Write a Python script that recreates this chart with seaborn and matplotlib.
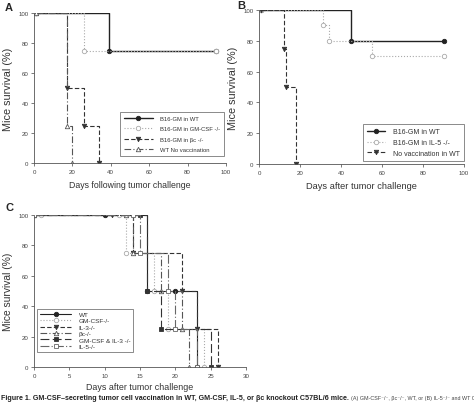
import numpy as np
import pandas as pd
import matplotlib
matplotlib.use('Agg')
import matplotlib.pyplot as plt
import seaborn as sns

# ---- Panel A data (days, survival %) ----
a_wt_days = [1, 39, 95]
a_wt_surv = [100, 75, 75]
a_gm_days = [1, 26, 95]
a_gm_surv = [100, 75, 75]
a_bc_days = [1, 17, 26, 34]
a_bc_surv = [100, 50, 25, 0]
a_nv_days = [1, 17, 20]
a_nv_surv = [100, 25, 0]
a_labels = ['B16-GM in WT', 'B16-GM in GM-CSF -/-', 'B16-GM in \u03b2c -/-', 'WT No vaccination']

# ---- Panel B data ----
b_wt_days = [1, 45, 90]
b_wt_surv = [100, 80, 80]
b_il5_days = [1, 31, 34, 55, 90]
b_il5_surv = [100, 90, 80, 70, 70]
b_nv_days = [1, 12, 13, 18]
b_nv_surv = [100, 75, 50, 0]
b_labels = ['B16-GM in WT', 'B16-GM in IL-5 -/-', 'No vaccination in WT']

# ---- Panel C data ----
c_wt_days = [0, 10, 16, 20, 23]
c_wt_surv = [100, 100, 50, 50, 0]
c_gm_days = [1, 12, 13, 17, 19, 24]
c_gm_surv = [100, 100, 75, 50, 25, 0]
c_il3_days = [0, 11, 14, 21, 23, 26]
c_il3_surv = [100, 100, 75, 50, 25, 0]
c_bc_days = [0, 13, 14, 18, 21, 22]
c_bc_surv = [100, 100, 75, 50, 25, 0]
c_gmil3_days = [0, 15, 16, 18, 25]
c_gmil3_surv = [100, 100, 50, 25, 0]
c_il5_days = [0, 14, 15, 19, 20, 23]
c_il5_surv = [100, 100, 75, 50, 25, 0]
c_labels = ['WT', 'GM-CSF-/-', 'IL-3-/-', '\u03b2c-/-', 'GM-CSF & IL-3 -/-', 'IL-5-/-']

sns.set_style('white')
NARROW = ['Liberation Sans Narrow', 'Liberation Sans', 'DejaVu Sans']
REG = ['Liberation Sans', 'DejaVu Sans']
plt.rcParams['font.family'] = NARROW

fig = plt.figure(figsize=(4.74, 4.06), dpi=100)
W, H = 474, 406


def add_axes(x0, x1, y_top, y_bot):
    return fig.add_axes([x0 / W, 1 - y_bot / H, (x1 - x0) / W, (y_bot - y_top) / H])


def km(ax, days, surv, label, color, ls, marker, mfc, lw=0.8):
    df = pd.DataFrame({'day': days, 'surv': surv})
    sns.lineplot(data=df, x='day', y='surv', ax=ax, drawstyle='steps-post',
                 color=color, linestyle=ls, linewidth=lw, marker=marker,
                 markersize=3.2, markerfacecolor=mfc, markeredgecolor=color,
                 markeredgewidth=0.6, label=label, estimator=None)


def style(ax, xmax, xstep, xlabel, xsize, ysize, xpad=5):
    ax.set_xlim(0, xmax)
    ax.set_ylim(0, 100)
    ax.set_xticks(np.arange(0, xmax + 1, xstep))
    ax.set_yticks(np.arange(0, 101, 20))
    for s in ['top', 'right']:
        ax.spines[s].set_visible(False)
    for s in ['left', 'bottom']:
        ax.spines[s].set_color('#555555')
        ax.spines[s].set_linewidth(0.6)
    ax.tick_params(axis='both', labelsize=4.4, length=2, width=0.5, pad=2,
                   colors='#444444', direction='out', bottom=True, left=True)
    ax.set_xlabel(xlabel, fontsize=xsize, color='#333333', labelpad=xpad)
    ax.set_ylabel('Mice survival (%)', fontsize=ysize, color='#333333', labelpad=4,
                  family=REG)
    ax.patch.set_alpha(0)


def legend(ax, loc, bbox, size, spacing, hlen, pad=0.7):
    leg = ax.legend(loc=loc, bbox_to_anchor=bbox, bbox_transform=fig.transFigure,
                    fontsize=size, frameon=True, fancybox=False, handlelength=hlen,
                    borderpad=pad, labelspacing=spacing, handletextpad=1.2,
                    borderaxespad=0)
    leg.get_frame().set_edgecolor('#555555')
    leg.get_frame().set_linewidth(0.6)
    for t in leg.get_texts():
        t.set_color('#333333')


# Panel A
axA = add_axes(34, 226, 14, 164)
km(axA, a_wt_days, a_wt_surv, a_labels[0], '#222222', '-', 'o', '#222222', 1.0)
km(axA, a_gm_days, a_gm_surv, a_labels[1], '#aaaaaa', ':', 'o', 'white')
km(axA, a_bc_days, a_bc_surv, a_labels[2], '#333333', (0, (4, 2)), 'v', '#333333')
km(axA, a_nv_days, a_nv_surv, a_labels[3], '#555555', (0, (6, 2, 1, 2)), '^', 'white')
style(axA, 100, 20, 'Days following tumor challenge', 6.3, 7.8)
legend(axA, 'lower right', (224 / W, 1 - 157 / H), 4.2, 0.9, 5.0)

# Panel B
axB = add_axes(259, 464, 11, 165)
km(axB, b_wt_days, b_wt_surv, b_labels[0], '#222222', '-', 'o', '#222222', 1.0)
km(axB, b_il5_days, b_il5_surv, b_labels[1], '#aaaaaa', ':', 'o', 'white')
km(axB, b_nv_days, b_nv_surv, b_labels[2], '#333333', (0, (4, 2)), 'v', '#333333')
style(axB, 100, 20, 'Days after tumor challenge', 6.7, 7.8)
legend(axB, 'lower right', (464 / W, 1 - 162 / H), 5.0, 0.55, 2.5, 0.6)

# Panel C
axC = add_axes(34, 246, 216, 368)
km(axC, c_wt_days, c_wt_surv, c_labels[0], '#222222', '-', 'o', '#222222')
km(axC, c_gm_days, c_gm_surv, c_labels[1], '#aaaaaa', ':', 'o', 'white')
km(axC, c_il3_days, c_il3_surv, c_labels[2], '#333333', (0, (4, 2)), 'v', '#333333')
km(axC, c_bc_days, c_bc_surv, c_labels[3], '#555555', (0, (6, 2, 1, 2)), '^', 'white')
km(axC, c_gmil3_days, c_gmil3_surv, c_labels[4], '#333333', (0, (8, 3)), 's', '#333333')
km(axC, c_il5_days, c_il5_surv, c_labels[5], '#666666', (0, (8, 2, 1, 2)), 's', 'white')
style(axC, 30, 5, 'Days after tumor challenge', 6.4, 7.4, xpad=3)
legend(axC, 'lower left', (37 / W, 1 - 353 / H), 4.6, 0.15, 4.9, 0.45)

# panel letters
fig.text(5 / W, 1 - 3 / H, 'A', fontsize=8, fontweight='bold', va='top', family=REG)
fig.text(237 / W, 1 - 1 / H, 'B', fontsize=8, fontweight='bold', va='top', family=REG)
fig.text(5 / W, 1 - 203 / H, 'C', fontsize=8, fontweight='bold', va='top', family=REG)

# caption
fig.text(1 / W, 1 - 399 / H,
         'Figure 1. GM-CSF\u2013secreting tumor cell vaccination in WT, GM-CSF, IL-5, or \u03b2c knockout C57BL/6 mice.',
         fontsize=5.1, fontweight='bold', va='center', color='#222222', family=REG)
fig.text(351 / W, 1 - 399 / H,
         '(A) GM-CSF\u207b/\u207b, \u03b2c\u207b/\u207b, WT, or (B) IL-5\u207b/\u207b and WT C57BL/6',
         fontsize=3.9, va='center', color='#444444')

fig.savefig('out.png', dpi=100)
